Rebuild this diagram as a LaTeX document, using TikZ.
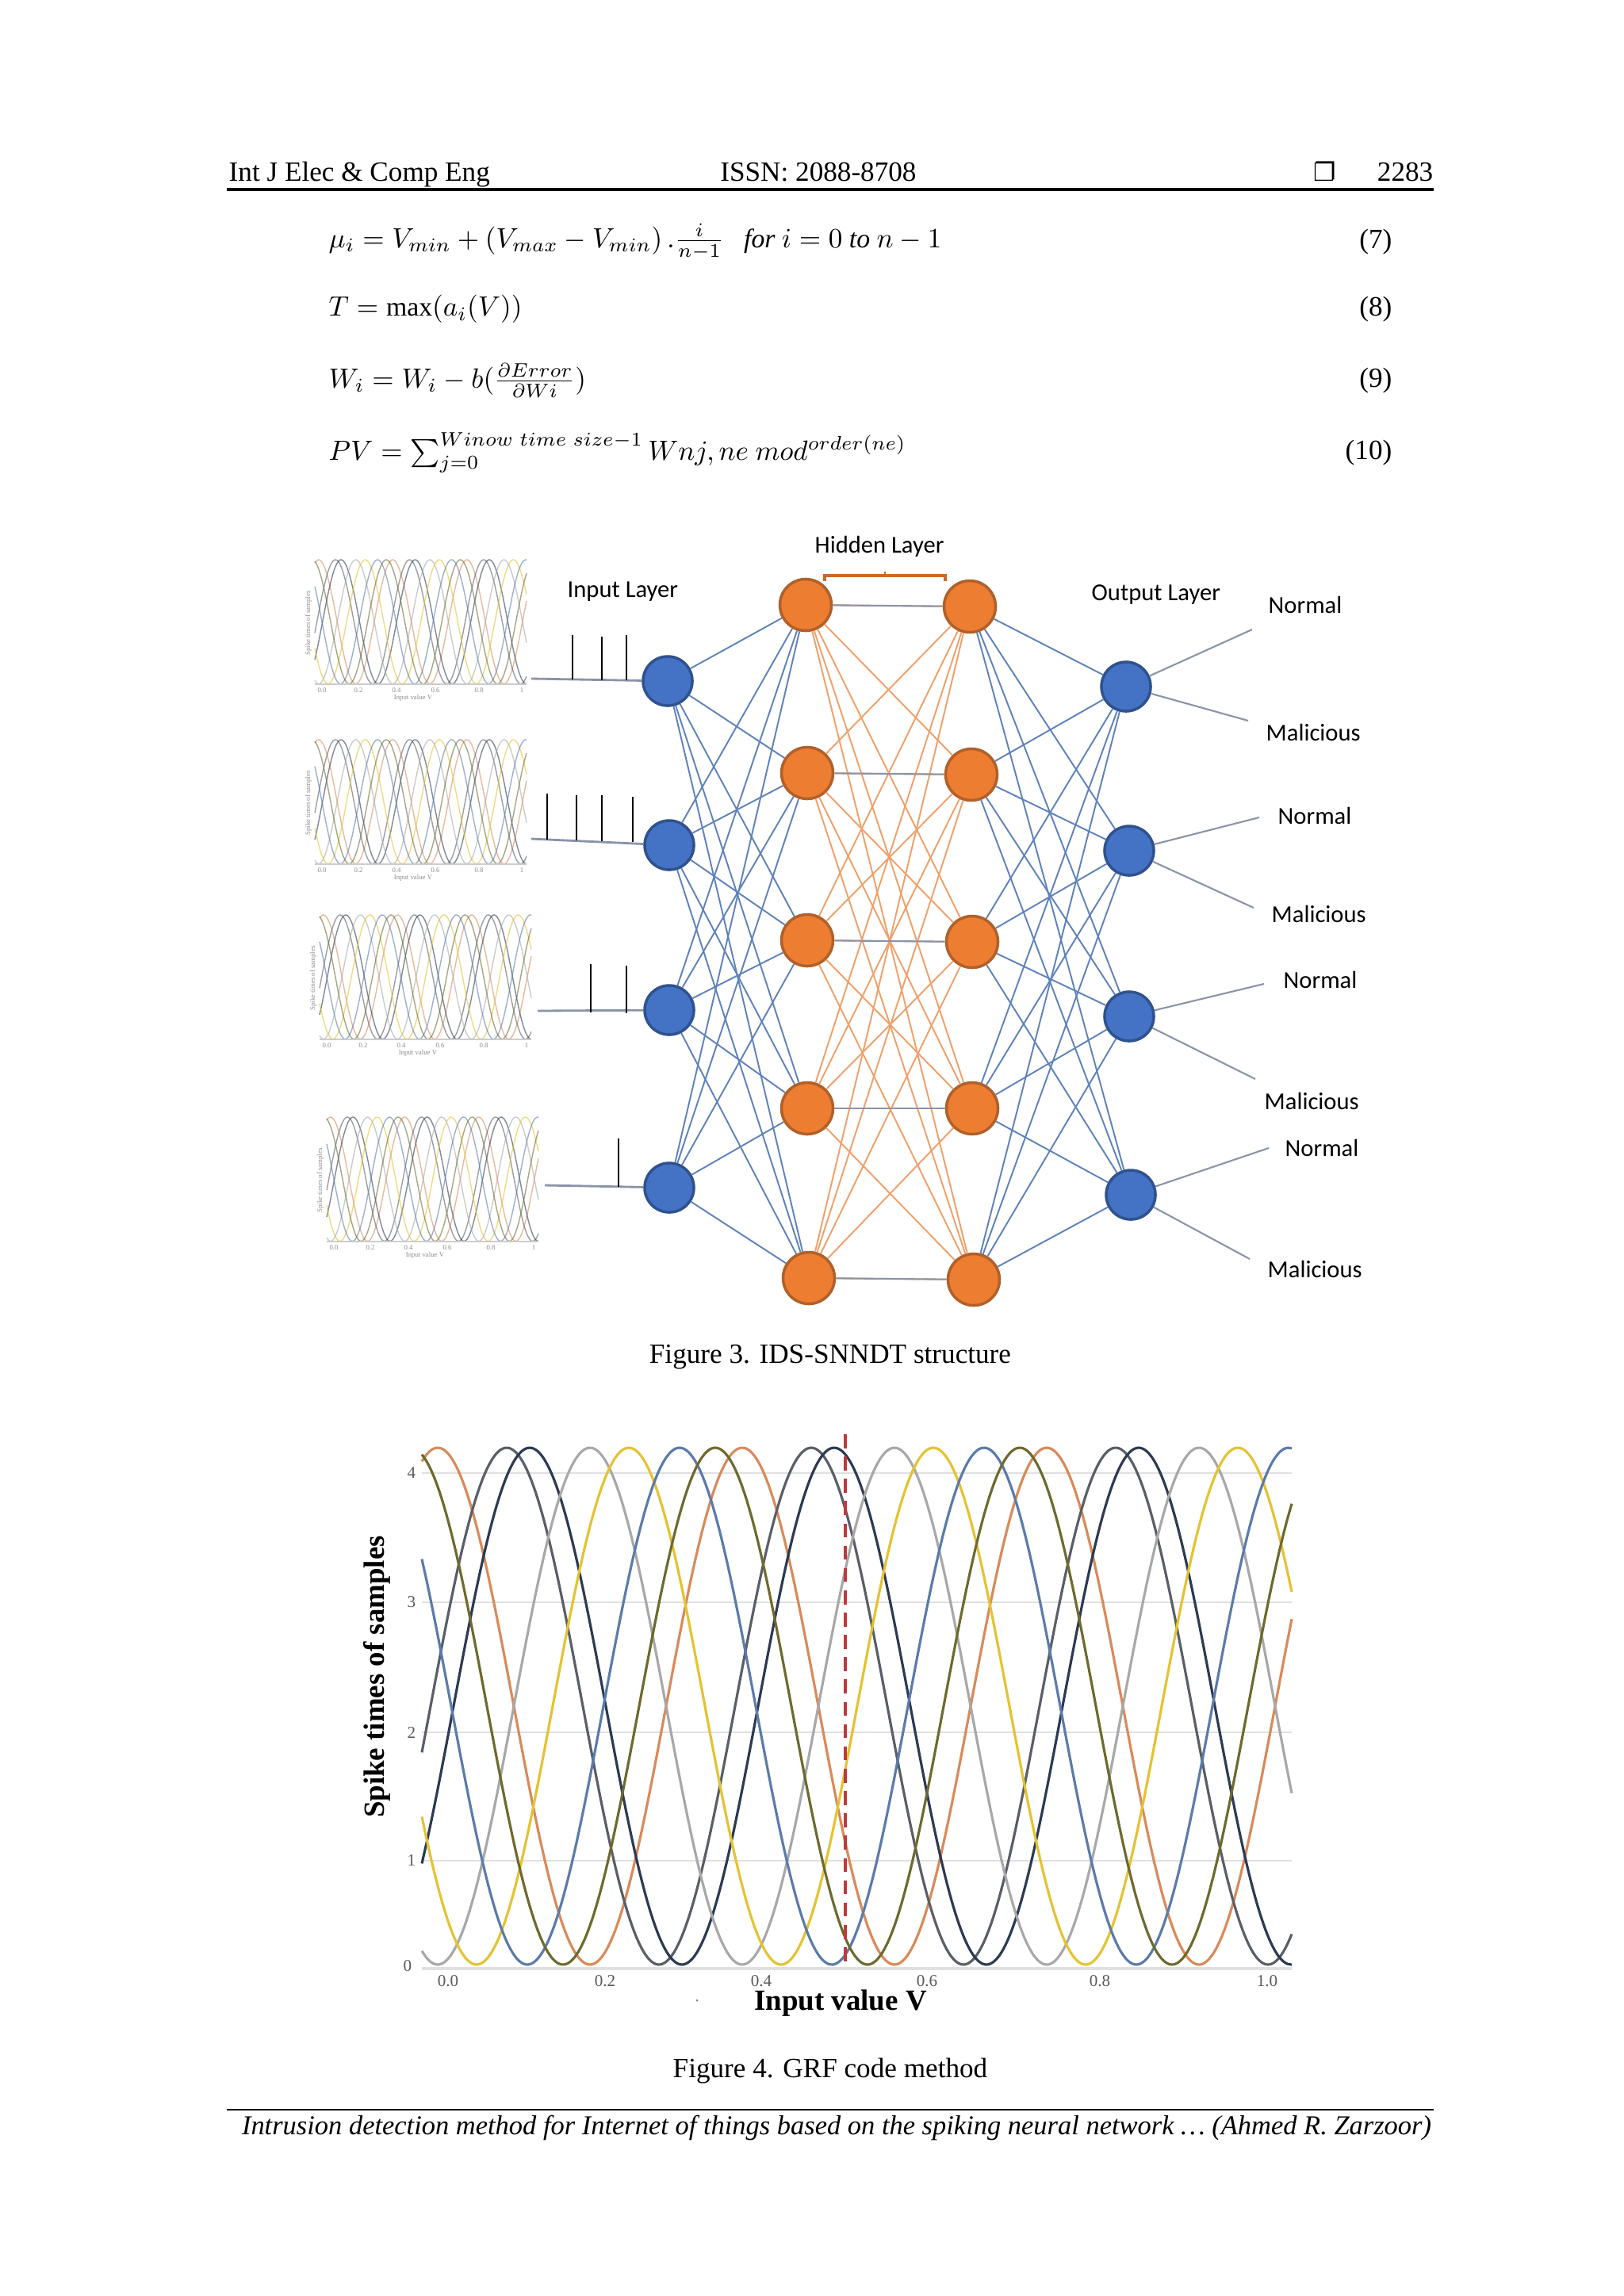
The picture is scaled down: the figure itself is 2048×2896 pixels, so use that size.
\documentclass[tikz,border=0pt]{standalone}
\usepackage{amsmath}
\usepackage{fontspec}
\setmainfont{Liberation Serif}
\newfontfamily\calib{Carlito}
\newfontfamily\dejavu{DejaVu Sans}
\usetikzlibrary{positioning}

\definecolor{nodeblue}{HTML}{4472C4}
\definecolor{nodeblueedge}{HTML}{2F528F}
\definecolor{nodeorange}{HTML}{ED7D31}
\definecolor{nodeorangeedge}{HTML}{B0602A}
\definecolor{linkblue}{HTML}{5F82BA}
\definecolor{linkorange}{HTML}{F0A06A}
\definecolor{linkgray}{HTML}{8A94A8}
\definecolor{wvorange}{HTML}{D98A5A}
\definecolor{wvdgrey}{HTML}{5A5E66}
\definecolor{wvnavy}{HTML}{2C3A52}
\definecolor{wvgrey}{HTML}{A8A8A8}
\definecolor{wvyellow}{HTML}{E5C232}
\definecolor{wvblue}{HTML}{5B7BAA}
\definecolor{wvolive}{HTML}{6E6A2E}
\definecolor{vline}{HTML}{C0393B}

% seven shifted cosine curves, local box 1097 x 652
\newcommand{\grfwaves}[1]{%
  \foreach \pk/\col in {20/wvorange,107/wvdgrey,136/wvnavy,212/wvgrey,261/wvyellow,325/wvblue,370/wvolive}{
    \draw[\col, line width=#1] plot[domain=0:1097, samples=200, smooth] (\x, {326-326*cos((\x-\pk)/384*360)});
  }}

% small spike-time plot beside each input
\newcommand{\thumbplot}[2]{%
  \begin{scope}[shift={(#1,#2)}]
    \begin{scope}[xscale=0.2434, yscale=0.24, opacity=0.6]
      \grfwaves{0.4pt}
    \end{scope}
    \draw[black!20, line width=0.3pt] (0,157) -- (267,157);
    \foreach \tx/\tl in {9/0.0, 55/0.2, 103/0.4, 152/0.6, 207/0.8, 261/1}
      \node[thumbtick] at (\tx,165) {\tl};
    \node[thumbtick] at (124,174) {Input value V};
    \node[thumbtick, rotate=90] at (-8,80) {Spike times of samples};
  \end{scope}}

\begin{document}
\begin{tikzpicture}[x=0.01cm, y=-0.01cm, every node/.style={inner sep=0pt},
  inneuron/.style={circle, draw=nodeblueedge, fill=nodeblue, line width=1pt, minimum size=0.62cm},
  hidneuron/.style={circle, draw=nodeorangeedge, fill=nodeorange, line width=1pt, minimum size=0.65cm},
  link/.style={linkblue, line width=0.55pt},
  hlink/.style={linkorange, line width=0.55pt},
  rowlink/.style={linkgray, line width=0.6pt},
  outlink/.style={linkgray, line width=0.6pt},
  lbl/.style={font=\calib\fontsize{8.7}{10}\selectfont},
  eqn/.style={font=\fontsize{9.6}{11}\selectfont},
  tick/.style={font=\fontsize{6}{7}\selectfont, text=black!65},
  thumbtick/.style={font=\fontsize{2.5}{3}\selectfont, text=black!45}]
  \useasboundingbox (0,0) rectangle (2048,2896);

  % header
  \node[anchor=base west] (hdl) at (288,228) {Int J Elec \& Comp Eng};
  \node[anchor=base] (hdc) at (1032,228) {ISSN: 2088-8708};
  \node[font=\dejavu\fontsize{9}{10}\selectfont] (hdbox) at (1671,216) {❐};
  \node[anchor=base east] (hdr) at (1808,228) {2283};
  \draw[line width=1.2pt] (286,239) -- (1808,239);

  % equations
  \node[eqn, anchor=west] (eqmu) at (414,305) {$\mu_i = V_{min} + (V_{max} - V_{min})\,.\tfrac{i}{n-1}\ \ \ \mathit{for}\ i = 0\ \mathit{to}\ n-1$};
  \node[eqn, anchor=west] (eqt) at (414,390) {$T = \max(a_i(V))$};
  \node[eqn, anchor=west] (eqw) at (414,480) {$W_i = W_i - b(\tfrac{\partial Error}{\partial Wi})$};
  \node[eqn, anchor=west] (eqpv) at (414,571) {$PV = \textstyle\sum_{j=0}^{Winow\ time\ size-1} Wnj, ne\ mod^{order(ne)}$};
  \node[anchor=east] (n7) at (1756,305) {(7)};
  \node[anchor=east] (n8) at (1756,390) {(8)};
  \node[anchor=east] (n9) at (1756,480) {(9)};
  \node[anchor=east] (n10) at (1756,571) {(10)};

  % ---- Figure 3 ----
  \thumbplot{397}{706}
  \thumbplot{397}{933}
  \thumbplot{403}{1154}
  \thumbplot{412}{1409}

  \foreach \n/\px/\py in {1/842/859, 2/844/1066, 3/844/1274, 4/844/1498}
    \node[inneuron] (in\n) at (\px,\py) {};
  \foreach \n/\px/\py in {1/1016/763, 2/1018/975, 3/1018/1186, 4/1018/1398, 5/1020/1612}
    \node[hidneuron] (ha\n) at (\px,\py) {};
  \foreach \n/\px/\py in {1/1223/765, 2/1225/977, 3/1226/1188, 4/1226/1398, 5/1228/1614}
    \node[hidneuron] (hb\n) at (\px,\py) {};
  \foreach \n/\px/\py in {1/1420/866, 2/1424/1073, 3/1424/1282, 4/1426/1507}
    \node[inneuron] (out\n) at (\px,\py) {};

  \foreach \i in {1,...,4} \foreach \j in {1,...,5} \draw[link] (in\i) -- (ha\j);
  \foreach \i in {1,...,5} \foreach \j in {1,...,5} \draw[hlink] (ha\i) -- (hb\j);
  \foreach \i in {1,...,5} \draw[rowlink] (ha\i) -- (hb\i);
  \foreach \i in {1,...,5} \foreach \j in {1,...,4} \draw[link] (hb\i) -- (out\j);

  % spike trains into the input layer
  \coordinate (src1) at (670,856);
  \coordinate (src2) at (670,1058);
  \coordinate (src3) at (678,1275);
  \coordinate (src4) at (687,1495);
  \foreach \n in {1,...,4} \draw[linkgray, line width=0.8pt] (src\n) -- (in\n);
  \foreach \sx/\sy/\st in {722/857/801, 759/858/803, 790/858/801,
      690/1059/1001, 727/1060/1003, 759/1061/1003, 798/1062/1005,
      745/1277/1216, 790/1278/1218, 780/1497/1436}
    \draw[black, line width=0.7pt] (\sx,\sy) -- (\sx,\st);

  % outputs
  \foreach \n/\nx/\ny/\mx/\my in {1/1579/794/1574/909, 2/1588/1031/1581/1145,
      3/1594/1241/1583/1361, 4/1600/1448/1576/1588}{
    \coordinate (no\n) at (\nx,\ny);
    \coordinate (ma\n) at (\mx,\my);
    \draw[outlink] (out\n) -- (no\n);
    \draw[outlink] (out\n) -- (ma\n);
  }
  \node[lbl, anchor=west] (lno1) at (1599,763) {Normal};
  \node[lbl, anchor=west] (lma1) at (1596,924) {Malicious};
  \node[lbl, anchor=west] (lno2) at (1611,1029) {Normal};
  \node[lbl, anchor=west] (lma2) at (1603,1153) {Malicious};
  \node[lbl, anchor=west] (lno3) at (1618,1236) {Normal};
  \node[lbl, anchor=west] (lma3) at (1594,1389) {Malicious};
  \node[lbl, anchor=west] (lno4) at (1620,1448) {Normal};
  \node[lbl, anchor=west] (lma4) at (1598,1601) {Malicious};

  \node[lbl, anchor=west] (tin) at (715,746) {Input Layer};
  \node[lbl, anchor=west] (thid) at (1027,689) {Hidden Layer};
  \node[lbl, anchor=west] (tout) at (1376,750) {Output Layer};
  \draw[nodeorange!85!black, line width=0.9pt] (1040,733) -- (1040,726) -- (1192,726) -- (1192,733);
  \draw[nodeorange!85!black, line width=0.6pt] (1116,726) -- (1116,721);

  \node (cap3) at (1047,1712) {Figure 3. IDS-SNNDT structure};

  % ---- Figure 4 ----
  \foreach \gy/\lab in {1858/4, 2021/3, 2185/2, 2347/1}{
    \draw[black!12, line width=0.5pt] (532,\gy) -- (1629,\gy);
    \node[tick] at (519,\gy) {\lab};
  }
  \draw[black!12, line width=1pt] (532,2483) -- (1629,2483);
  \node[tick] at (514,2480) {0};
  \begin{scope}[shift={(532,1826)}]
    \grfwaves{0.9pt}
  \end{scope}
  \draw[vline, line width=1.4pt, dash pattern=on 5pt off 3pt] (1066,1809) -- (1066,2483);
  \foreach \tx/\tl in {565/0.0, 763/0.2, 960/0.4, 1169/0.6, 1387/0.8, 1598/1.0}
    \node[tick] at (\tx,2499) {\tl};
  \fill[black!50] (879,2523) circle (1.5);
  \node[font=\bfseries\fontsize{10.5}{12}\selectfont] (xlab) at (1060,2527) {Input value V};
  \node[font=\bfseries\fontsize{10.5}{12}\selectfont, rotate=90] (ylab) at (475,2115) {Spike times of samples};

  \node (cap4) at (1047,2612) {Figure 4. GRF code method};

  % footer
  \draw[line width=0.8pt] (286,2661) -- (1808,2661);
  \node[font=\itshape\fontsize{9.8}{12}\selectfont] (foot) at (1055,2684) {Intrusion detection method for Internet of things based on the spiking neural network … (Ahmed R. Zarzoor)};
\end{tikzpicture}
\end{document}
